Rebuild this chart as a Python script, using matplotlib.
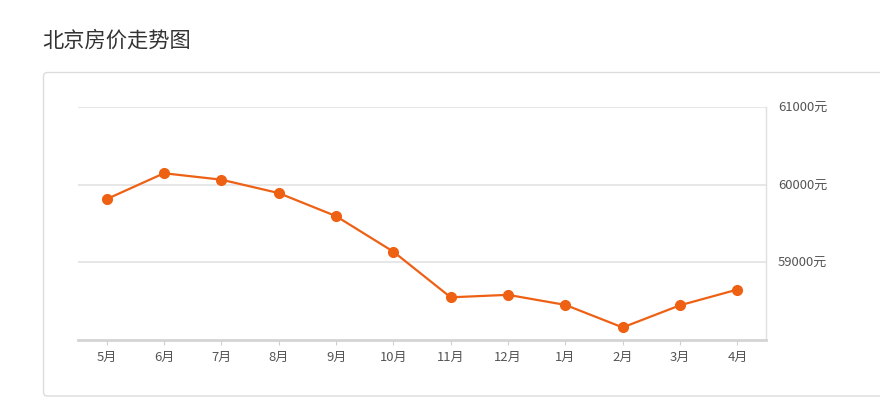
import matplotlib
matplotlib.use("Agg")
import matplotlib.pyplot as plt
from matplotlib.patches import FancyBboxPatch
from matplotlib.transforms import IdentityTransform

plt.rcParams['font.family'] = ['Noto Sans CJK SC', 'DejaVu Sans']

title = "北京房价走势图"
months = ["5月", "6月", "7月", "8月", "9月", "10月", "11月", "12月", "1月", "2月", "3月", "4月"]
prices = [59814, 60148, 60065, 59892, 59594, 59135, 58545, 58577, 58447, 58156, 58442, 58645]
y_ticks = [59000, 60000, 61000]
y_tick_labels = ["59000元", "60000元", "61000元"]

W, H, DPI = 880, 420, 100
fig = plt.figure(figsize=(W / DPI, H / DPI), dpi=DPI)
fig.patch.set_facecolor("white")

# outer rounded box (pixel coordinates, origin bottom-left)
box = FancyBboxPatch((43.5, H - 396), 860, 396 - 72.5,
                     boxstyle="round,pad=0,rounding_size=4",
                     transform=IdentityTransform(),
                     facecolor="white", edgecolor="#dcdcdc", linewidth=1.0,
                     zorder=-10)
fig.add_artist(box)

fig.text(42 / W, 1 - 41 / H, title, fontsize=15.3, color="#333333",
         ha="left", va="center")

ax = fig.add_axes([78 / W, 1 - 339.5 / H, (766 - 78) / W, (339.5 - 107.3) / H])
ax.set_zorder(5)
ax.set_facecolor("none")
x = list(range(len(months)))
ax.plot(x, prices, color="#ee6115", linewidth=1.6, marker="o",
        markersize=7.0, markerfacecolor="#ef6112", markeredgecolor="#ef6112",
        zorder=3, clip_on=False)

ax.set_xlim(-0.5, len(months) - 0.5)
ax.set_ylim(58000, 61000)
ax.set_xticks(x)
ax.set_xticklabels(months)
ax.set_yticks(y_ticks)
ax.set_yticklabels(y_tick_labels)
ax.yaxis.tick_right()

ax.grid(axis="y", color="#e3e3e3", linewidth=1.2)
ax.set_axisbelow(True)

for s in ["top", "left"]:
    ax.spines[s].set_visible(False)
ax.spines["right"].set_color("#e0e0e0")
ax.spines["right"].set_linewidth(1.0)
ax.spines["bottom"].set_color("#d4d4d4")
ax.spines["bottom"].set_linewidth(2.0)

ax.tick_params(axis="x", direction="out", length=3.5, width=0.8, color="#d0d0d0",
               labelsize=9.4, labelcolor="#555555", pad=4.5)
ax.tick_params(axis="y", length=0, labelsize=9.4, labelcolor="#555555", pad=8.5)

fig.savefig("out.png", dpi=DPI)
